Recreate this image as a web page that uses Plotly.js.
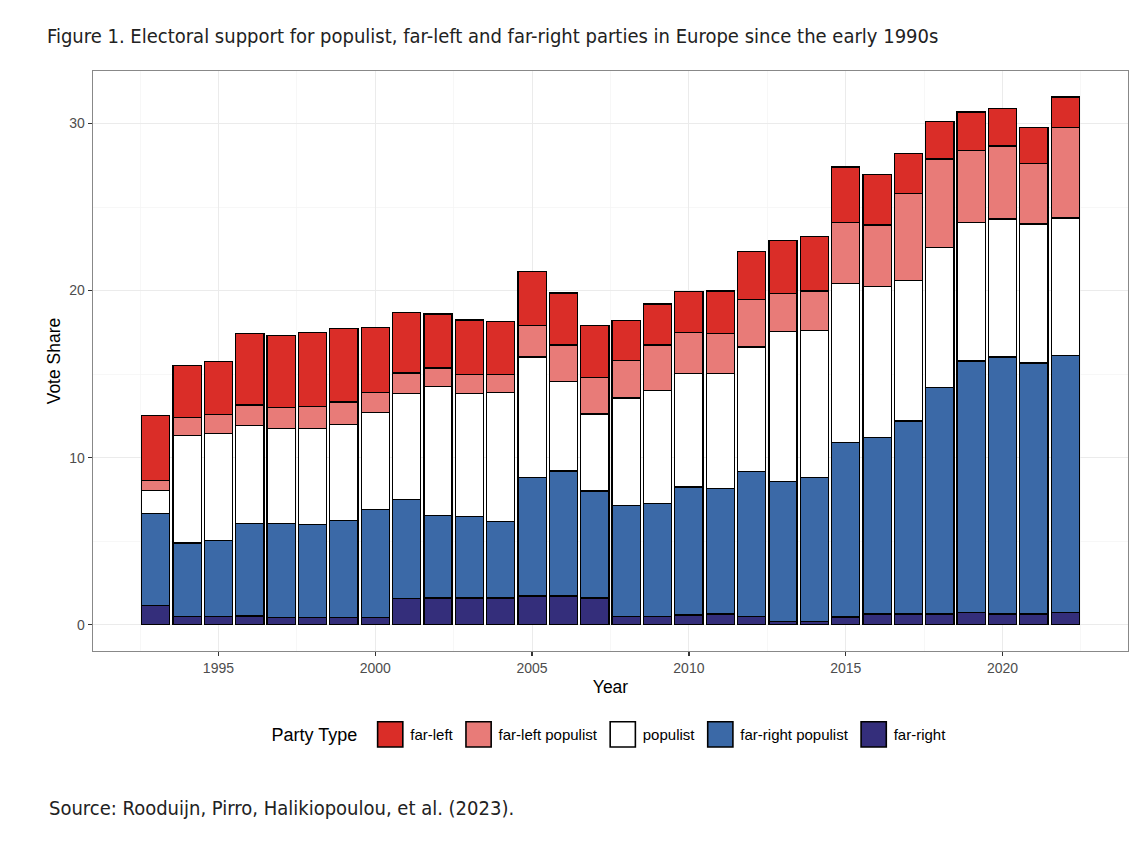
<!DOCTYPE html>
<html>
<head>
<meta charset="utf-8">
<script src="https://cdn.plot.ly/plotly-3.0.1.min.js"></script>
<style>html,body{margin:0;padding:0;background:#fff;}#chart{width:1140px;height:852px;}</style>
</head>
<body>
<div id="chart"></div>
<script>
const years = [1993,1994,1995,1996,1997,1998,1999,2000,2001,2002,2003,2004,2005,2006,2007,2008,2009,2010,2011,2012,2013,2014,2015,2016,2017,2018,2019,2020,2021,2022];
const farRight =          [1.15,0.51,0.51,0.53,0.45,0.45,0.45,0.45,1.58,1.60,1.60,1.60,1.73,1.73,1.60,0.51,0.51,0.58,0.64,0.51,0.21,0.21,0.47,0.64,0.64,0.64,0.75,0.64,0.64,0.75];
const farRightPopulist =  [5.50,4.39,4.54,5.53,5.61,5.56,5.78,6.46,5.93,4.95,4.90,4.58,7.10,7.48,6.40,6.63,6.76,7.67,7.50,8.66,8.36,8.62,10.45,10.55,11.56,13.54,15.03,15.39,15.03,15.35];
const populist =          [1.39,6.44,6.40,5.88,5.67,5.72,5.75,5.78,6.35,7.71,7.36,7.72,7.20,5.33,4.62,6.44,6.74,6.78,6.89,7.46,8.96,8.80,9.49,9.04,8.42,8.40,8.29,8.26,8.32,8.25];
const farLeftPopulist =   [0.60,1.07,1.13,1.22,1.26,1.34,1.35,1.21,1.21,1.11,1.11,1.07,1.90,2.20,2.18,2.24,2.73,2.48,2.39,2.84,2.30,2.35,3.68,3.69,5.20,5.29,4.33,4.37,3.60,5.39];
const farLeft =           [3.88,3.09,3.18,4.26,4.32,4.44,4.41,3.90,3.63,3.22,3.26,3.17,3.20,3.11,3.09,2.39,2.45,2.43,2.56,2.85,3.18,3.24,3.31,3.03,2.37,2.24,2.28,2.24,2.15,1.84];
const xTicks = [1995,2000,2005,2010,2015,2020];
const yTicks = [0,10,20,30];

const seriesDefs = [
  {name:'far-right', y: farRight, color:'#342E7B'},
  {name:'far-right populist', y: farRightPopulist, color:'#3B69A7'},
  {name:'populist', y: populist, color:'#FFFFFF'},
  {name:'far-left populist', y: farLeftPopulist, color:'#E87B78'},
  {name:'far-left', y: farLeft, color:'#DA2D28'}
];

const traces = seriesDefs.map(s => ({
  type:'bar', x: years, y: s.y, name: s.name,
  marker:{color:s.color, line:{color:'#000000', width:1.3}},
  hoverinfo:'x+y+name'
}));

const sans = 'Liberation Sans, Arial, sans-serif';
const cond = 'DejaVu Sans Condensed, Liberation Sans Narrow, Roboto, sans-serif';
const axisFont = {family:sans, size:14, color:'#4D4D4D'};

const layout = {
  width:1140, height:852,
  paper_bgcolor:'#FFFFFF', plot_bgcolor:'#FFFFFF',
  barmode:'stack', bargap:0.1,
  margin:{l:93, r:12, t:71, b:201},
  font:{family:sans, color:'#000'},
  title:{
    text:'Figure 1. Electoral support for populist, far-left and far-right parties in Europe since the early 1990s',
    font:{family:cond, size:20, color:'#222'},
    xref:'container', x:47/1140, xanchor:'left',
    yref:'container', y:1-36/852, yanchor:'middle'
  },
  xaxis:{
    range:[1991.0, 2024.0],
    tickmode:'array', tickvals:xTicks, ticktext:xTicks.map(String),
    tickfont:axisFont, ticks:'outside', ticklen:4, tickcolor:'#333', tickwidth:1.2,
    showgrid:true, gridcolor:'#EBEBEB', gridwidth:1.1,
    minor:{tickmode:'array', tickvals:[1992.5,1997.5,2002.5,2007.5,2012.5,2017.5,2022.5], showgrid:true, gridcolor:'#F3F3F3', gridwidth:0.7, ticks:''},
    zeroline:false,
    showline:true, mirror:true, linecolor:'#888888', linewidth:1.3,
    title:{text:'Year', font:{family:sans, size:17.5, color:'#000'}, standoff:5}
  },
  yaxis:{
    range:[-1.57, 33.14],
    tickmode:'array', tickvals:yTicks, ticktext:yTicks.map(String),
    tickfont:axisFont, ticks:'outside', ticklen:4, tickcolor:'#333', tickwidth:1.2,
    showgrid:true, gridcolor:'#EBEBEB', gridwidth:1.1,
    minor:{tickmode:'array', tickvals:[5,15,25], showgrid:true, gridcolor:'#F3F3F3', gridwidth:0.7, ticks:''},
    zeroline:false,
    showline:true, mirror:true, linecolor:'#888888', linewidth:1.3,
    title:{text:'Vote Share', font:{family:sans, size:17.5, color:'#000'}, standoff:4}
  },
  showlegend:true,
  legend:{
    orientation:'h', traceorder:'reversed',
    x:0.5, xanchor:'center', y:-0.145, yanchor:'middle',
    title:{text:'Party Type ', font:{family:sans, size:18, color:'#000'}, side:'left'},
    font:{family:sans, size:15, color:'#000'},
    bgcolor:'rgba(0,0,0,0)', itemwidth:30
  },
  annotations:[{
    text:'Source: Rooduijn, Pirro, Halikiopoulou, et al. (2023).',
    xref:'paper', yref:'paper', x:(47-93)/1035, y:-(808-651)/580,
    xanchor:'left', yanchor:'middle', showarrow:false,
    font:{family:cond, size:20, color:'#222'}
  }]
};

Plotly.newPlot('chart', traces, layout, {displayModeBar:false, staticPlot:true}).then(gd => {
  // enlarge legend keys to resemble ggplot's square keys
  gd.querySelectorAll('.legend .legendpoints path').forEach(p => {
    const t = p.getAttribute('transform') || '';
    p.setAttribute('transform', t + ' scale(2.1)');
    p.setAttribute('vector-effect', 'non-scaling-stroke');
    p.style.strokeWidth = '1.6px';
  });
});
</script>
</body>
</html>
